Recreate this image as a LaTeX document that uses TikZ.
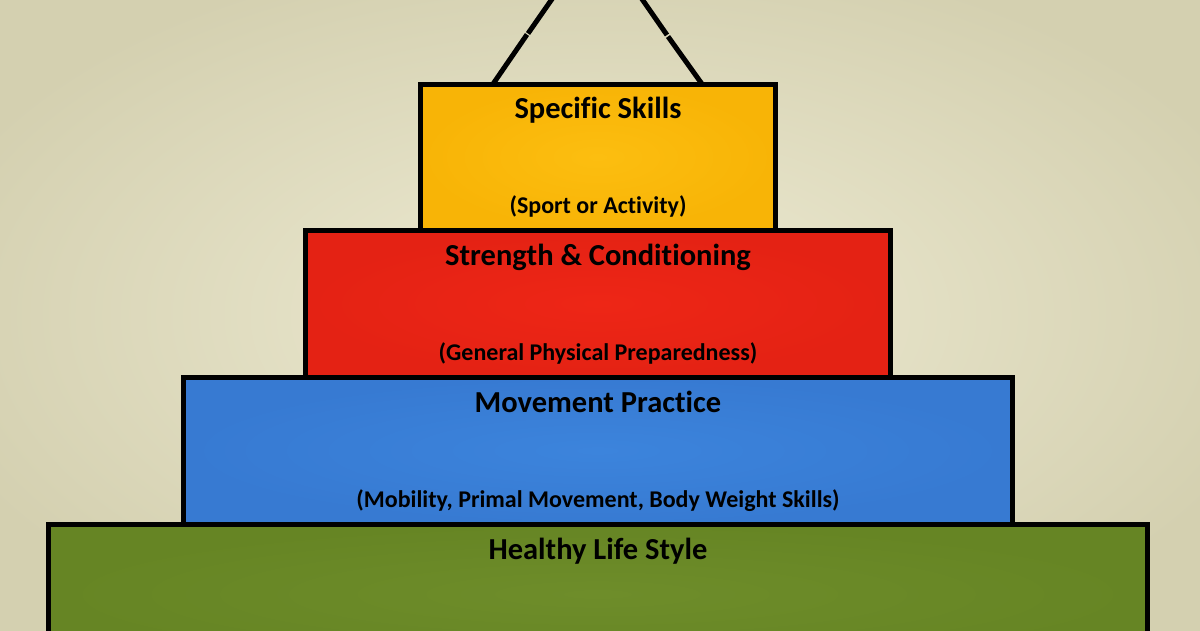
\documentclass[tikz,border=0pt]{standalone}
\usepackage{fontspec}
\setmainfont[Ligatures=NoCommon]{Carlito}
\definecolor{bgin}{HTML}{EEEBD3}
\definecolor{bgout}{HTML}{D4D0B0}
\definecolor{yin}{HTML}{FCBE10}
\definecolor{yout}{HTML}{F8B406}
\definecolor{rin}{HTML}{EE2616}
\definecolor{rout}{HTML}{E42214}
\definecolor{bin}{HTML}{3C84DC}
\definecolor{bout}{HTML}{377AD2}
\definecolor{gin}{HTML}{6E8D2A}
\definecolor{gout}{HTML}{668524}
\begin{document}
\begin{tikzpicture}[x=1pt,y=-1pt,
  layer/.style={draw=black, line width=5pt, rectangle, inner sep=0pt, outer sep=0pt, anchor=north west},
  title/.style={anchor=base, inner sep=0pt, font=\fontsize{30.5}{36}\selectfont\bfseries, text=black},
  sub/.style={anchor=base, inner sep=0pt, font=\fontsize{24}{28}\selectfont\bfseries, text=black},
  rope/.style={line width=5pt, black}]
\useasboundingbox (0,0) rectangle (1200,630);
\clip (0,0) rectangle (1200,630);
\shade[inner color=bgin, outer color=bgout] (-100,-60) rectangle (1300,690);
% ropes
\coordinate (l1) at (493,84);
\coordinate (l2) at (527,34.5);
\coordinate (l3) at (528,33.5);
\coordinate (l4) at (555.5,-6);
\coordinate (r1) at (702,84);
\coordinate (r2) at (668,36.5);
\coordinate (r3) at (667,35);
\coordinate (r4) at (638.5,-6);
\draw[rope] (l1) -- (l2);
\draw[rope] (l3) -- (l4);
\draw[rope] (r1) -- (r2);
\draw[rope] (r3) -- (r4);
% layers
\node[layer, shading=radial, inner color=gin, outer color=gout, minimum width=1099pt, minimum height=140pt] (green) at (48,524) {};
\node[layer, shading=radial, inner color=bin, outer color=bout, minimum width=829pt, minimum height=147pt] (blue) at (183,377) {};
\node[layer, shading=radial, inner color=rin, outer color=rout, minimum width=585pt, minimum height=147pt] (red) at (305,230) {};
\node[layer, shading=radial, inner color=yin, outer color=yout, minimum width=355pt, minimum height=146pt] (yellow) at (420,84) {};
% texts
\node[title] (t1) at (598,118) {Specific Skills};
\node[sub] (s1) at (598,213) {(Sport or Activity)};
\node[title] (t2) at (598,265) {Strength \& Conditioning};
\node[sub] (s2) at (598,360) {(General Physical Preparedness)};
\node[title] (t3) at (598,412) {Movement Practice};
\node[sub] (s3) at (598,507) {(Mobility, Primal Movement, Body Weight Skills)};
\node[title] (t4) at (598,559) {Healthy Life Style};
\end{tikzpicture}
\end{document}
